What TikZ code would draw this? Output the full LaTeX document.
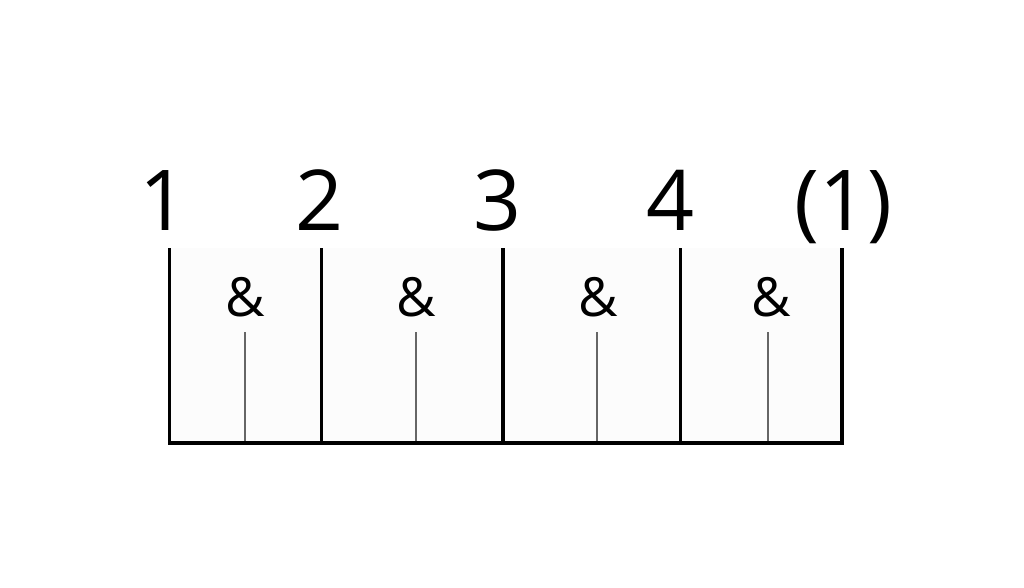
\documentclass[tikz,border=0pt]{standalone}
\usepackage{fontspec}
\setmainfont{Open Sans}
\begin{document}
\begin{tikzpicture}[x=1pt,y=-1pt,
  num/.style={anchor=base,inner sep=0pt,font=\fontsize{84}{90}\selectfont},
  amp/.style={anchor=base,inner sep=0pt,font=\fontsize{54}{60}\selectfont},
  bar/.style={line width=3.9pt,black},
  tick/.style={line width=1.3pt,black!60},
  base/.style={line width=3.9pt,black,line cap=rect}]
\useasboundingbox (0,0) rectangle (1024,588);
\fill[black!1] (169,248) rectangle (842,443);
% top labels
\node[num] (n1) at (164,230) {1};
\node[num] (n2) at (320,230) {2};
\node[num] (n3) at (498,230) {3};
\node[num] (n4) at (671,230) {4};
\node[num] (n5) at (843,230) {(1)};
% bar coordinates
\coordinate (t1) at (169.5,248); \coordinate (b1) at (169.5,443);
\coordinate (t2) at (321.5,248); \coordinate (b2) at (321.5,443);
\coordinate (t3) at (503,248);   \coordinate (b3) at (503,443);
\coordinate (t4) at (680.5,248); \coordinate (b4) at (680.5,443);
\coordinate (t5) at (842,248);   \coordinate (b5) at (842,443);
\draw[bar] (t1) -- (b1);
\draw[bar] (t2) -- (b2);
\draw[bar] (t3) -- (b3);
\draw[bar] (t4) -- (b4);
\draw[bar] (t5) -- (b5);
% ampersands and ticks
\node[amp] (a1) at (245,316) {\&};
\node[amp] (a2) at (416,316) {\&};
\node[amp] (a3) at (598,316) {\&};
\node[amp] (a4) at (771,316) {\&};
\coordinate (s1) at (245,332); \coordinate (e1) at (245,443);
\coordinate (s2) at (416,332); \coordinate (e2) at (416,443);
\coordinate (s3) at (597,332); \coordinate (e3) at (597,443);
\coordinate (s4) at (768,332); \coordinate (e4) at (768,443);
\draw[tick] (s1) -- (e1);
\draw[tick] (s2) -- (e2);
\draw[tick] (s3) -- (e3);
\draw[tick] (s4) -- (e4);
\draw[base] (b1) -- (b5);
\end{tikzpicture}
\end{document}
